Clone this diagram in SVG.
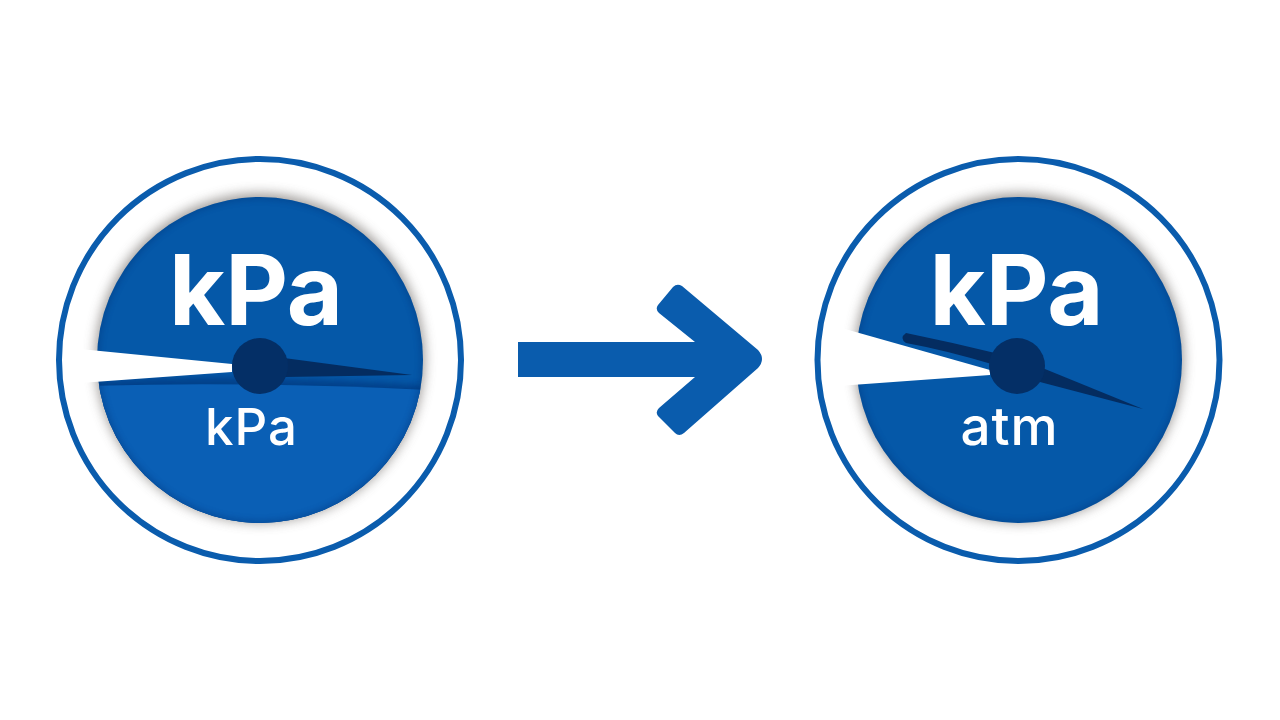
<svg xmlns="http://www.w3.org/2000/svg" width="1280" height="720" viewBox="0 0 1280 720">
<style>
.ring{fill:#fff;stroke:#0a5cad;stroke-width:6}
.shadow{fill:#8a8683;filter:url(#blur);opacity:.8}
.disc{fill:#0558a8}
.inner{fill:none;stroke:#003478;stroke-width:6;filter:url(#blurS);opacity:.45}
.dark{fill:#042c60}
.hub{fill:#042f66}
.white{fill:#fff}
text{fill:#fff;font-family:Inter,"Liberation Sans",sans-serif;text-anchor:middle}
.big{font-size:97px;font-weight:700}
.small{font-size:51px;font-weight:500;letter-spacing:1px}
</style>
<defs>
<filter id="blur" x="-20%" y="-20%" width="140%" height="140%"><feGaussianBlur stdDeviation="6"/></filter>
<filter id="blurS" x="-20%" y="-20%" width="140%" height="140%"><feGaussianBlur stdDeviation="3"/></filter>
<clipPath id="cl"><circle cx="260" cy="360" r="163"/></clipPath>
<clipPath id="cr"><circle cx="1019" cy="360" r="163"/></clipPath>
</defs>
<rect width="1280" height="720" fill="#fff"/>
<g id="gauge-left">
<circle class="ring" cx="260" cy="360" r="201"/>
<circle class="shadow" cx="260" cy="358" r="165"/>
<circle class="disc" cx="260" cy="360" r="163"/>
<g clip-path="url(#cl)">
<path d="M90 382Q240 372 430 386V530H90Z" fill="#00347a" filter="url(#blurS)" opacity=".65"/>
<path d="M90 386Q240 381 430 390V530H90Z" fill="#0a5fb5"/>
<circle class="inner" cx="260" cy="360" r="164"/>
</g>
<path class="white" d="M80 349L232 364V372L80 383Z"/>
<path class="dark" d="M284 358L412 375L284 377Z"/>
<circle class="hub" cx="260" cy="366" r="28"/>
<text class="big" x="256" y="325">kPa</text>
<text class="small" x="251.500" y="445">kPa</text>
</g>
<g id="gauge-right">
<circle class="ring" cx="1018.500" cy="360" r="201"/>
<circle class="shadow" cx="1019" cy="358" r="165"/>
<circle class="disc" cx="1019" cy="360" r="163"/>
<g clip-path="url(#cr)"><circle class="inner" cx="1019" cy="360" r="164"/></g>
<path class="white" d="M838 327L990 370V375L838 386Z"/>
<path class="dark" d="M906 333Q950 342 995 353V365Q945 350 906 343Q899 338 906 333Z"/>
<path class="dark" d="M1040 367L1143 409L1040 382Z"/>
<circle class="hub" cx="1017" cy="366" r="28"/>
<text class="big" x="1016.500" y="325">kPa</text>
<text class="small" x="1009.500" y="445" style="font-size:53px">atm</text>
</g>
<g id="connectors">
<path id="arrow" fill="#0a5cad" d="M518 342H695L659 313Q655 309 658 305L673 287Q677 283 682 286L758 350Q766 359 758 368L684 433Q679 437 675 433L658 416Q655 412 659 408L695 377H518Z"/>
</g>
</svg>
